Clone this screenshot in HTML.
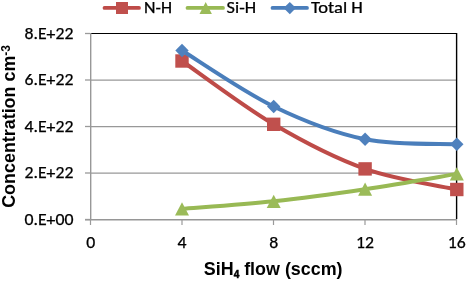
<!DOCTYPE html>
<html><head><meta charset="utf-8"><style>html,body{margin:0;padding:0;background:#fff;overflow:hidden}svg{display:block}</style></head>
<body><svg width="466" height="281" viewBox="0 0 466 281">
<rect width="466" height="281" fill="#fff"/>
<line x1="91" y1="80.05" x2="456" y2="80.05" stroke="#989898" stroke-width="1.15"/><line x1="91" y1="126.6" x2="456" y2="126.6" stroke="#989898" stroke-width="1.15"/><line x1="91" y1="173.1" x2="456" y2="173.1" stroke="#989898" stroke-width="1.15"/>
<line x1="90" y1="33.5" x2="457" y2="33.5" stroke="#000" stroke-width="1.2"/>
<line x1="456.6" y1="33" x2="456.6" y2="219" stroke="#000" stroke-width="1.4"/>
<line x1="90.7" y1="33" x2="90.7" y2="219.5" stroke="#989898" stroke-width="1.4"/>
<line x1="85" y1="219.7" x2="457" y2="219.7" stroke="#969696" stroke-width="1.4"/>
<line x1="85" y1="33.5" x2="90" y2="33.5" stroke="#9A9A9A" stroke-width="1.3"/><line x1="85" y1="80" x2="90" y2="80" stroke="#9A9A9A" stroke-width="1.3"/><line x1="85" y1="126.5" x2="90" y2="126.5" stroke="#9A9A9A" stroke-width="1.3"/><line x1="85" y1="173" x2="90" y2="173" stroke="#9A9A9A" stroke-width="1.3"/><line x1="85" y1="219.5" x2="90" y2="219.5" stroke="#9A9A9A" stroke-width="1.3"/><line x1="90.5" y1="219" x2="90.5" y2="225" stroke="#9A9A9A" stroke-width="1.2"/><line x1="182" y1="219" x2="182" y2="225" stroke="#9A9A9A" stroke-width="1.2"/><line x1="273.5" y1="219" x2="273.5" y2="225" stroke="#9A9A9A" stroke-width="1.2"/><line x1="365" y1="219" x2="365" y2="225" stroke="#9A9A9A" stroke-width="1.2"/><line x1="456.5" y1="219" x2="456.5" y2="225" stroke="#9A9A9A" stroke-width="1.2"/>
<g font-family="Carlito, 'Liberation Sans', sans-serif" font-size="16.3" fill="#000" stroke="#000" stroke-width="0.25"><text transform="translate(73.40,38.80) scale(1.09,1)" text-anchor="end" textLength="44.93" lengthAdjust="spacingAndGlyphs">8.E+22</text><text transform="translate(73.40,85.30) scale(1.09,1)" text-anchor="end" textLength="44.93" lengthAdjust="spacingAndGlyphs">6.E+22</text><text transform="translate(73.40,131.80) scale(1.09,1)" text-anchor="end" textLength="44.93" lengthAdjust="spacingAndGlyphs">4.E+22</text><text transform="translate(73.40,178.30) scale(1.09,1)" text-anchor="end" textLength="44.93" lengthAdjust="spacingAndGlyphs">2.E+22</text><text transform="translate(73.40,224.80) scale(1.09,1)" text-anchor="end" textLength="44.93" lengthAdjust="spacingAndGlyphs">0.E+00</text><text transform="translate(90.70,248.00) scale(1.09,1)" text-anchor="middle" textLength="8.26" lengthAdjust="spacingAndGlyphs">0</text><text transform="translate(182.00,248.00) scale(1.09,1)" text-anchor="middle" textLength="8.26" lengthAdjust="spacingAndGlyphs">4</text><text transform="translate(273.70,248.00) scale(1.09,1)" text-anchor="middle" textLength="8.26" lengthAdjust="spacingAndGlyphs">8</text><text transform="translate(365.10,248.00) scale(1.09,1)" text-anchor="middle" textLength="16.51" lengthAdjust="spacingAndGlyphs">12</text><text transform="translate(456.80,248.00) scale(1.09,1)" text-anchor="middle" textLength="16.51" lengthAdjust="spacingAndGlyphs">16</text></g>
<g fill="none" stroke-width="4.0" stroke-linejoin="round" stroke-linecap="round">
<path d="M182.00,61.00 C197.28,71.55 243.18,106.32 273.70,124.30 C304.22,142.28 334.58,158.03 365.10,168.90 C395.62,179.77 441.52,186.07 456.80,189.50" stroke="#BE4B48"/>
</g>
<rect x="175.30" y="54.30" width="13.4" height="13.4" fill="#C0504D"/><rect x="267.00" y="117.60" width="13.4" height="13.4" fill="#C0504D"/><rect x="358.40" y="162.20" width="13.4" height="13.4" fill="#C0504D"/><rect x="450.10" y="182.80" width="13.4" height="13.4" fill="#C0504D"/>
<g fill="none" stroke-width="4.0" stroke-linejoin="round" stroke-linecap="round">
<path d="M182.00,208.90 C197.28,207.63 243.18,204.58 273.70,201.30 C304.22,198.02 334.58,193.77 365.10,189.20 C395.62,184.63 441.52,176.45 456.80,173.90" stroke="#98B954"/>
</g>
<path d="M182.00,202.30 L189.00,215.50 L175.00,215.50Z" fill="#9BBB59"/><path d="M273.70,194.70 L280.70,207.90 L266.70,207.90Z" fill="#9BBB59"/><path d="M365.10,182.60 L372.10,195.80 L358.10,195.80Z" fill="#9BBB59"/><path d="M456.80,167.30 L463.80,180.50 L449.80,180.50Z" fill="#9BBB59"/>
<g fill="none" stroke-width="4.0" stroke-linejoin="round" stroke-linecap="round">
<path d="M182.00,50.50 C197.28,59.83 243.18,91.70 273.70,106.50 C304.22,121.30 334.58,133.02 365.10,139.30 C395.62,145.58 441.52,143.38 456.80,144.20" stroke="#4A7EBB"/>
</g>
<path d="M182.00,43.80 L188.70,50.50 L182.00,57.20 L175.30,50.50Z" fill="#4F81BD"/><path d="M273.70,99.80 L280.40,106.50 L273.70,113.20 L267.00,106.50Z" fill="#4F81BD"/><path d="M365.10,132.60 L371.80,139.30 L365.10,146.00 L358.40,139.30Z" fill="#4F81BD"/><path d="M456.80,137.50 L463.50,144.20 L456.80,150.90 L450.10,144.20Z" fill="#4F81BD"/>
<!-- legend -->
<g stroke-width="3.8" stroke-linecap="round">
<line x1="104.5" y1="7.9" x2="139" y2="7.9" stroke="#BE4B48"/>
<line x1="187.5" y1="7.9" x2="223" y2="7.9" stroke="#98B954"/>
<line x1="272.5" y1="7.9" x2="307" y2="7.9" stroke="#4A7EBB"/>
</g>
<rect x="116.00" y="2.00" width="12" height="12" fill="#C0504D"/>
<path d="M205.70,2.00 L211.90,14.00 L199.50,14.00Z" fill="#9BBB59"/>
<path d="M289.80,1.90 L296.00,8.10 L289.80,14.30 L283.60,8.10Z" fill="#4F81BD"/>
<g font-family="Carlito, 'Liberation Sans', sans-serif" font-size="16.3" fill="#000" stroke="#000" stroke-width="0.25">
<text transform="translate(144.00,12.90) scale(1.09,1)" text-anchor="start" textLength="25.65" lengthAdjust="spacingAndGlyphs">N-H</text><text transform="translate(226.60,12.90) scale(1.12,1)" text-anchor="start" textLength="26.37" lengthAdjust="spacingAndGlyphs">Si-H</text><text transform="translate(311.00,12.90) scale(1.135,1)" text-anchor="start" textLength="45.71" lengthAdjust="spacingAndGlyphs">Total H</text>
</g>
<g font-family="'Liberation Sans', Arial, sans-serif" font-weight="bold" fill="#000">
<text x="273.2" y="275.4" text-anchor="middle" font-size="17.9">SiH<tspan font-size="10" dy="3" stroke="#000" stroke-width="0.45">4</tspan><tspan dy="-3"> flow (sccm)</tspan></text>
<text transform="translate(15,207.8) rotate(-90)" font-size="17.9">Concentration cm<tspan font-size="12" dy="-5.2">-3</tspan></text>
</g>
</svg></body></html>
